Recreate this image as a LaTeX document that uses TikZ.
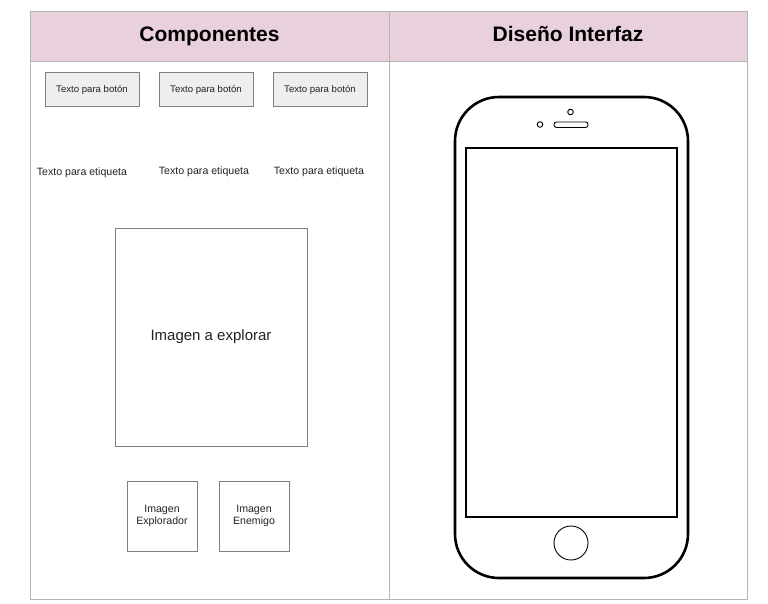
\documentclass[tikz,border=0pt]{standalone}
\usepackage{fontspec}
\setmainfont{Liberation Sans}
\definecolor{hdr}{HTML}{E8D0DD}
\definecolor{grid}{HTML}{B4B4B4}
\definecolor{btnfill}{HTML}{EEEEEE}
\definecolor{btnline}{HTML}{7F7F7F}
\definecolor{txt}{HTML}{222222}
\tikzset{
  btn/.style={draw=btnline, fill=btnfill, line width=0.8pt, minimum width=94pt, minimum height=34pt, inner sep=0pt, text=txt, font=\fontsize{9.6}{11}\selectfont, text height=8pt, text depth=1pt},
  lbl/.style={inner sep=0pt, text=txt, font=\fontsize{10.6}{12}\selectfont, text height=8pt, text depth=1pt},
  imgbox/.style={draw=btnline, line width=0.8pt, inner sep=0pt, align=center, text=txt},
  hdrtxt/.style={font=\bfseries\fontsize{21}{24}\selectfont, inner sep=0pt, text height=15pt, text depth=4pt},
  phone/.style={draw=black, line width=2.6pt}
}
\begin{document}
\begin{tikzpicture}[x=1pt,y=-1pt]
\useasboundingbox (0,0) rectangle (768,603);
% header
\fill[hdr] (30,11) rectangle (747,61);
\draw[grid, line width=1pt] (30,11) rectangle (747,599);
\draw[grid, line width=1pt] (30,61) -- (747,61);
\draw[grid, line width=1pt] (389,11) -- (389,599);
\node[hdrtxt] (h1) at (209.5,36) {Componentes};
\node[hdrtxt] (h2) at (568,36) {Diseño Interfaz};
% buttons
\node[btn] (b1) at (92,89) {Texto para botón};
\node[btn] (b2) at (206,89) {Texto para botón};
\node[btn] (b3) at (320,89) {Texto para botón};
% labels
\node[lbl] (l1) at (82,171.5) {Texto para etiqueta};
\node[lbl] (l2) at (204,170.5) {Texto para etiqueta};
\node[lbl] (l3) at (319,170.5) {Texto para etiqueta};
% image
\node[imgbox, minimum width=192pt, minimum height=218pt, font=\fontsize{15}{17}\selectfont] (img) at (211,337) {Imagen a explorar};
\node[imgbox, minimum width=70pt, minimum height=70pt, font=\fontsize{10.6}{12.5}\selectfont] (exp) at (162,516) {Imagen\\Explorador};
\node[imgbox, minimum width=70pt, minimum height=70pt, font=\fontsize{10.6}{12.5}\selectfont] (ene) at (254,516) {Imagen\\Enemigo};
% phone
\draw[phone, rounded corners=44pt] (455,97) rectangle (688,578);
\draw[black, line width=2.4pt] (466,148) rectangle (677,517);
\draw[black, line width=0.9pt] (571,543) circle (17);
\draw[black, line width=0.9pt] (570.5,112) circle (2.8);
\draw[black, line width=0.9pt] (540,124.5) circle (2.8);
\draw[black, line width=0.9pt, rounded corners=2.5pt] (554,122) rectangle (588,127.5);
\end{tikzpicture}
\end{document}
